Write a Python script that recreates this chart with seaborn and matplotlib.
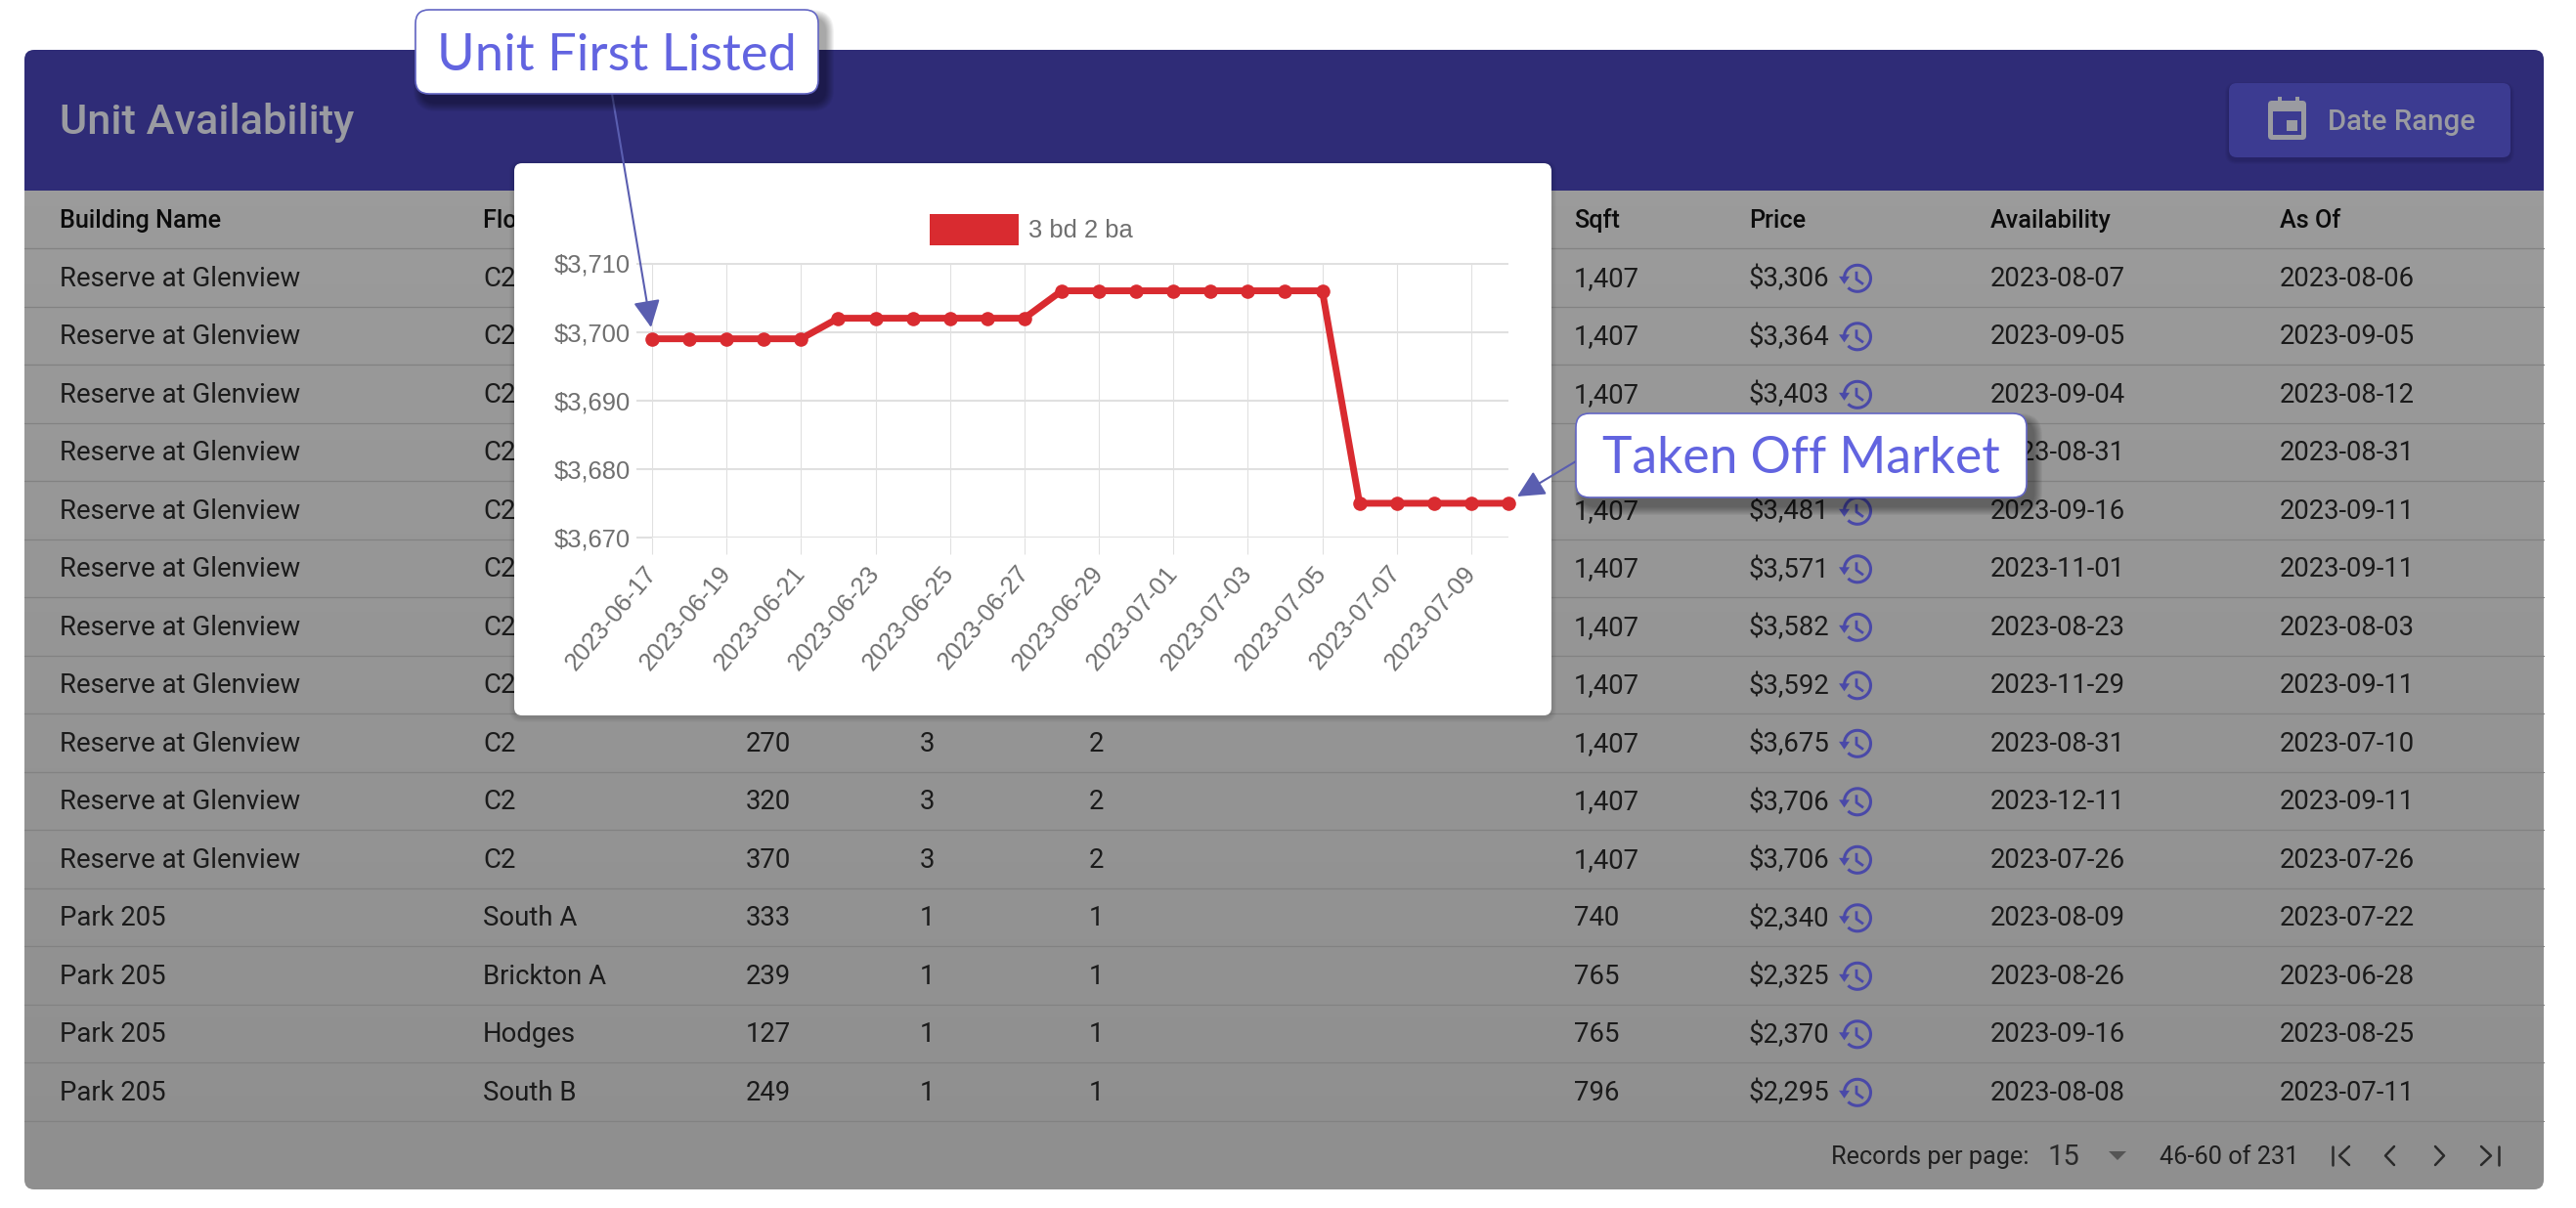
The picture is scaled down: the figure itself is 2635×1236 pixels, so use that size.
import matplotlib
matplotlib.use("Agg")
import matplotlib.pyplot as plt
import numpy as np
import pandas as pd
import seaborn as sns
from matplotlib.patches import Arc, FancyBboxPatch, Patch, Polygon, Rectangle
from matplotlib.ticker import FuncFormatter

# chart series
dates = pd.date_range("2023-06-17", "2023-07-10").strftime("%Y-%m-%d").tolist()
prices = [3699, 3699, 3699, 3699, 3699,
          3702, 3702, 3702, 3702, 3702, 3702,
          3706, 3706, 3706, 3706, 3706, 3706, 3706, 3706,
          3675, 3675, 3675, 3675, 3675]
y_ticks = [3670, 3680, 3690, 3700, 3710]
series_name = "3 bd 2 ba"

# table behind the popup (rows hidden by the popup have no unit/beds/baths)
headers = ["Building Name", "Floor Plan", "Sqft", "Price", "Availability", "As Of"]
buildings = ["Reserve at Glenview"] * 11 + ["Park 205"] * 4
floors = ["C2"] * 11 + ["South A", "Brickton A", "Hodges", "South B"]
units = ["270", "320", "370", "333", "239", "127", "249"]
beds = ["3", "3", "3", "1", "1", "1", "1"]
baths = ["2", "2", "2", "1", "1", "1", "1"]
sqfts = ["1,407"] * 11 + ["740", "765", "765", "796"]
table_prices = ["$3,306", "$3,364", "$3,403", "", "$3,481", "$3,571", "$3,582", "$3,592",
                "$3,675", "$3,706", "$3,706", "$2,340", "$2,325", "$2,370", "$2,295"]
availability = ["2023-08-07", "2023-09-05", "2023-09-04", "2023-08-31", "2023-09-16",
                "2023-11-01", "2023-08-23", "2023-11-29", "2023-08-31", "2023-12-11",
                "2023-07-26", "2023-08-09", "2023-08-26", "2023-09-16", "2023-08-08"]
as_of = ["2023-08-06", "2023-09-05", "2023-08-12", "2023-08-31", "2023-09-11",
         "2023-09-11", "2023-08-03", "2023-09-11", "2023-07-10", "2023-09-11",
         "2023-07-26", "2023-07-22", "2023-06-28", "2023-08-25", "2023-07-11"]

W, H = 2635, 1236
INK = "#1b1b1b"
HEADER_BLUE = "#2f2c77"
BUTTON_BLUE = "#3c3b91"
FADED = "#9a9ba1"
ICON_BLUE = "#4a49a8"
CALLOUT = "#6264e0"
ARROW = "#5a5eb0"
RED = "#d92b30"
CHART_GREY = "#6f6f6f"
GRID = "#e0e0e0"
ROW_SIZE = 19.8

sns.set_theme(style="white")
plt.rcParams["font.family"] = ["Roboto", "DejaVu Sans"]


def shadow(ax, x0, y0, x1, y1, dx, dy, blur, strength, rounding, z):
    for i in range(blur):
        grow = blur - i
        ax.add_patch(FancyBboxPatch((x0 + dx - grow, y0 + dy - grow), x1 - x0 + 2 * grow, y1 - y0 + 2 * grow,
                                    boxstyle=f"round,pad=0,rounding_size={rounding + grow}",
                                    fc="black", ec="none", alpha=strength, zorder=z))


def history_icon(ax, cx, cy):
    ax.add_patch(Arc((cx, cy), 27, 27, theta1=180, theta2=135, color=ICON_BLUE, lw=2.2, zorder=3))
    ax.add_patch(Polygon([(cx - 19, cy - 2), (cx - 8, cy - 2), (cx - 13.5, cy + 6)], fc=ICON_BLUE, ec="none", zorder=3))
    ax.plot([cx - 1, cx - 1, cx + 6], [cy - 7, cy + 1, cy + 6], color=ICON_BLUE, lw=2, zorder=3, solid_capstyle="butt")


fig = plt.figure(figsize=(W / 100, H / 100), dpi=100, facecolor="white")

# page layer, in pixel coordinates
bg = fig.add_axes([0, 0, 1, 1], zorder=0)
bg.set_axis_off()

card = FancyBboxPatch((25, 51), 2577, 1166, boxstyle="round,pad=0,rounding_size=10", fc="none", ec="none", zorder=1)
bg.add_patch(card)
shade = bg.imshow(np.linspace(0, 1, 64).reshape(-1, 1), extent=(25, 2602, 1217, 195), aspect="auto",
                  cmap=matplotlib.colors.LinearSegmentedColormap.from_list("overlay", ["#9b9b9b", "#8f8f8f"]), zorder=1)
shade.set_clip_path(card)
head = Rectangle((25, 51), 2577, 144, fc=HEADER_BLUE, ec="none", zorder=1)
bg.add_patch(head)
head.set_clip_path(card)
bg.set_xlim(0, W)
bg.set_ylim(H, 0)

bg.text(61, 126, "Unit Availability", color=FADED, fontsize=31.2, fontweight="medium", va="center")
shadow(bg, 2280, 85, 2568, 161, 0, 3, 4, 0.03, 8, 2)
bg.add_patch(FancyBboxPatch((2280, 85), 288, 76, boxstyle="round,pad=0,rounding_size=8", fc=BUTTON_BLUE, ec="none", zorder=2))
bg.add_patch(FancyBboxPatch((2320, 103), 39, 40, boxstyle="round,pad=0,rounding_size=4", fc=FADED, ec="none", zorder=3))
bg.add_patch(Rectangle((2330, 99), 4, 6, fc=FADED, ec="none", zorder=3))
bg.add_patch(Rectangle((2348, 99), 4, 6, fc=FADED, ec="none", zorder=3))
bg.add_patch(Rectangle((2325, 114), 29, 24, fc=BUTTON_BLUE, ec="none", zorder=3))
bg.add_patch(Rectangle((2339, 123), 11, 11, fc=FADED, ec="none", zorder=3))
bg.text(2381, 125, "Date Range", color=FADED, fontsize=21.2, fontweight="medium", va="center")

# table
col_x = {"Building Name": 61, "Floor Plan": 494, "Sqft": 1610, "Price": 1789, "Availability": 2036, "As Of": 2332}
for name in headers:
    bg.text(col_x[name], 226, name, color="#0c0c0c", fontsize=18.2, fontweight="medium", va="center", zorder=2)
line_y = [254.3 + 59.5 * i for i in range(16)]
for y in line_y:
    bg.plot([25, 2602], [y, y], color="#828282", lw=0.9, zorder=2)
for i in range(15):
    y = line_y[i] + 31
    bg.text(61, y, buildings[i], color=INK, fontsize=ROW_SIZE, va="center", zorder=2)
    bg.text(494, y, floors[i], color=INK, fontsize=ROW_SIZE, va="center", zorder=2)
    bg.text(1610, y, sqfts[i], color=INK, fontsize=ROW_SIZE, va="center", zorder=2)
    if table_prices[i]:
        bg.text(1789, y, table_prices[i], color=INK, fontsize=ROW_SIZE, va="center", zorder=2)
        history_icon(bg, 1900, y - 0.5)
    bg.text(2036, y, availability[i], color=INK, fontsize=ROW_SIZE, va="center", zorder=2)
    bg.text(2332, y, as_of[i], color=INK, fontsize=ROW_SIZE, va="center", zorder=2)
for i in range(7):
    y = line_y[i + 8] + 31
    bg.text(763, y, units[i], color=INK, fontsize=ROW_SIZE, va="center", zorder=2)
    bg.text(941, y, beds[i], color=INK, fontsize=ROW_SIZE, va="center", zorder=2)
    bg.text(1114, y, baths[i], color=INK, fontsize=ROW_SIZE, va="center", zorder=2)

# pager
bg.text(1873, 1184, "Records per page:", color="#1f1f1f", fontsize=18.2, va="center", zorder=2)
bg.text(2095, 1184, "15", color="#2a2a2a", fontsize=21, va="center", zorder=2)
bg.add_patch(Polygon([(2157, 1178), (2175, 1178), (2166, 1187)], fc="#555555", ec="none", zorder=2))
bg.text(2209, 1184, "46-60 of 231", color="#1f1f1f", fontsize=18.3, va="center", zorder=2)
for xs, ys in [([2386, 2386], [1173, 1192]), ([2403, 2393, 2403], [1173, 1182.5, 1192]),
               ([2449, 2440, 2449], [1173, 1182.5, 1192]), ([2491, 2500, 2491], [1173, 1182.5, 1192]),
               ([2538, 2548, 2538], [1173, 1182.5, 1192]), ([2556, 2556], [1173, 1192])]:
    bg.plot(xs, ys, color="#2a2a2a", lw=1.8, zorder=2)

# popup card
shadow(bg, 526, 167, 1587, 732, 0, 2, 5, 0.025, 8, 4)
bg.add_patch(FancyBboxPatch((526, 167), 1061, 565, boxstyle="round,pad=0,rounding_size=8", fc="white", ec="none", zorder=5))

# chart on its own axes, placed so the pixel positions line up
left, right, top, bottom = 667, 1543, 269.5, 550
ax = fig.add_axes([left / W, 1 - bottom / H, (right - left) / W, (bottom - top) / H], zorder=1)
df = pd.DataFrame({"date": pd.to_datetime(dates), "price": prices})
sns.lineplot(data=df, x="date", y="price", color=RED, linewidth=5, marker="o", markersize=10.5,
             markeredgewidth=0, clip_on=False, zorder=4, ax=ax, legend=False)
ax.set_xlim(df["date"].iloc[0], df["date"].iloc[-1])
ax.set_ylim(3670, 3710)
ax.patch.set_alpha(0)
for s in ax.spines.values():
    s.set_visible(False)
ax.set_xlabel("")
ax.set_ylabel("")
ax.set_xticks(df["date"].iloc[::2])
ax.set_xticklabels(dates[::2], rotation=50, ha="right", va="center", rotation_mode="anchor",
                   fontsize=18.4, color=CHART_GREY, family="Liberation Sans")
ax.set_yticks(y_ticks)
ax.yaxis.set_major_formatter(FuncFormatter(lambda v, _: f"${v:,.0f}"))
for lab in ax.get_yticklabels():
    lab.set_fontsize(18.4)
    lab.set_color(CHART_GREY)
    lab.set_family("Liberation Sans")
    lab.set_va("center_baseline")
ax.grid(True, axis="x", color=GRID, lw=0.8)
ax.grid(True, axis="y", color=GRID, lw=1.5)
ax.set_axisbelow(True)
ax.tick_params(axis="x", bottom=True, length=12, width=0.8, color=GRID, pad=11)
ax.tick_params(axis="y", left=True, length=11.5, width=1.5, color=GRID, pad=4.5)
ax.legend(handles=[Patch(fc=RED, ec="none", label=series_name)], loc="center",
          bbox_to_anchor=(1055, 235), bbox_transform=bg.transData, frameon=False, borderpad=0,
          handlelength=3.57, handleheight=1.5, handletextpad=0.39,
          labelcolor=CHART_GREY, prop={"family": "Liberation Sans", "size": 18.4})

# callouts sit above everything
top_ax = fig.add_axes([0, 0, 1, 1], zorder=2)
top_ax.set_axis_off()
top_ax.set_xlim(0, W)
top_ax.set_ylim(H, 0)
for (x0, y0, x1, y1), label, size, tail, tip in [
    ((425, 10, 837, 96), "Unit First Listed", 37.8, (626, 96), (666, 335)),
    ((1612, 423, 2073, 509), "Taken Off Market", 37.2, (1612, 472), (1552, 508)),
]:
    top_ax.annotate("", xy=tip, xytext=tail, zorder=1,
                    arrowprops=dict(arrowstyle="-|>,head_length=0.85,head_width=0.42", mutation_scale=20,
                                    color=ARROW, lw=1.5, shrinkA=0, shrinkB=0))
    shadow(top_ax, x0, y0, x1, y1, 7, 9, 9, 0.045, 14, 2)
    top_ax.add_patch(FancyBboxPatch((x0, y0), x1 - x0, y1 - y0, boxstyle="round,pad=0,rounding_size=14",
                                    fc="white", ec="#6366c4", lw=1.2, zorder=3))
    top_ax.text((x0 + x1) / 2, (y0 + y1) / 2 + 4, label, color=CALLOUT, fontsize=size, family="Lato",
                ha="center", va="center", zorder=4)

fig.savefig("out.png", dpi=100)
